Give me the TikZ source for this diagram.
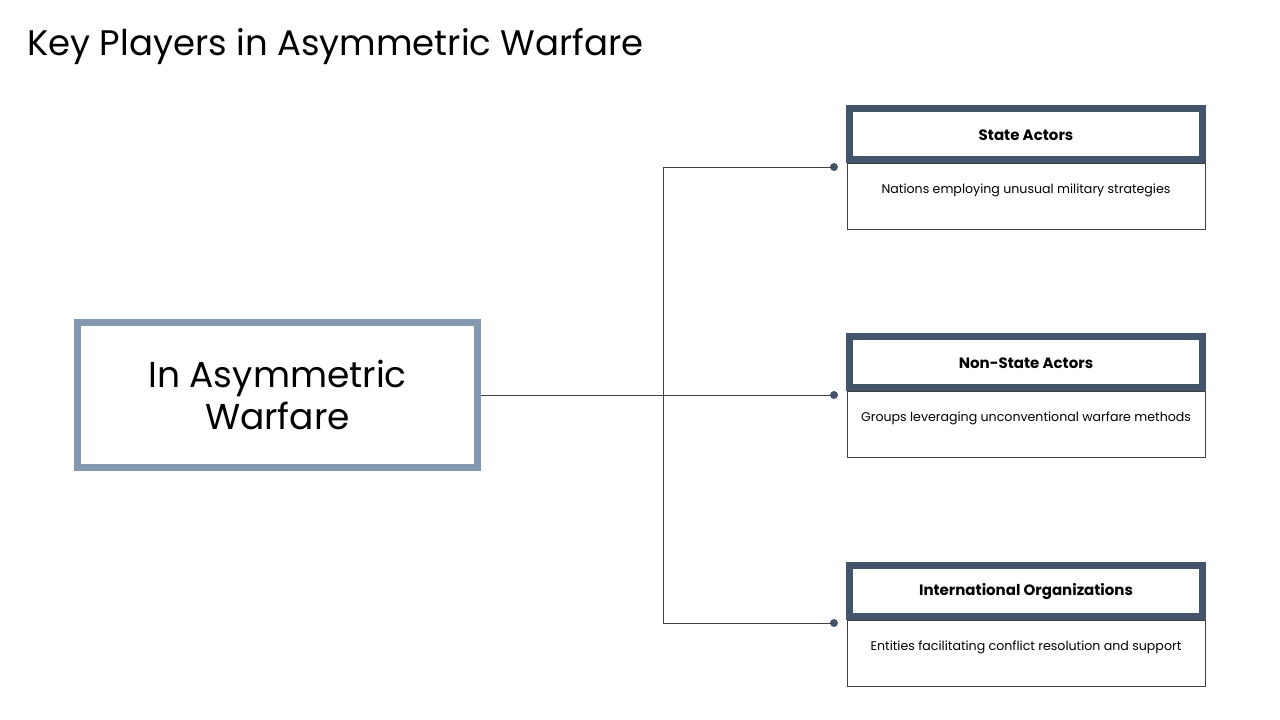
\documentclass[tikz,border=0pt]{standalone}
\usepackage{fontspec}
\setmainfont{Poppins}
\definecolor{dark}{HTML}{44546A}
\definecolor{light}{HTML}{8497B0}
\definecolor{thin}{HTML}{404040}
\begin{document}
\begin{tikzpicture}[x=1pt,y=-1pt,
  hdr/.style={draw=dark,line width=7pt,fill=white,minimum width=353pt,minimum height=51pt,inner sep=0pt},
  htext/.style={inner sep=0pt,font=\fontsize{15}{18}\selectfont\bfseries},
  body/.style={draw=thin,line width=0.8pt,minimum width=358pt,minimum height=66pt,inner sep=0pt},
  btext/.style={inner sep=0pt,font=\fontsize{12.6}{15}\selectfont},
  conn/.style={draw=thin,line width=0.9pt},
  dotc/.style={circle,fill=dark,inner sep=0pt,minimum size=8pt}]
\useasboundingbox (0,0) rectangle (1280,720);
\node[anchor=west,font=\fontsize{35.5}{42}\selectfont,inner sep=0pt] (title) at (27,47) {Key Players in Asymmetric Warfare};
\node[draw=light,line width=7pt,minimum width=400pt,minimum height=145pt,align=center,font=\fontsize{36}{42}\selectfont] (main) at (277.5,395) {In Asymmetric\\Warfare};
% right boxes
\node[body] (b1) at (1026,196) {};
\node[btext] (t1) at (1026,190) {Nations employing unusual military strategies};
\node[hdr] (h1) at (1026,134) {};
\node[htext] (ht1) at (1026,135) {State Actors};
\node[body] (b2) at (1026,424) {};
\node[btext] (t2) at (1026,418) {Groups leveraging unconventional warfare methods};
\node[hdr] (h2) at (1026,362) {};
\node[htext] (ht2) at (1026,363) {Non-State Actors};
\node[body] (b3) at (1026,653) {};
\node[btext] (t3) at (1026,647) {Entities facilitating conflict resolution and support};
\node[hdr] (h3) at (1026,591) {};
\node[htext] (ht3) at (1026,592) {International Organizations};
% dots
\node[dotc] (d1) at (834,167) {};
\node[dotc] (d2) at (834,395) {};
\node[dotc] (d3) at (834,623) {};
\coordinate (j1) at (663,167);
\coordinate (j3) at (663,623);
\draw[conn] (main.east) -- (d2.center);
\draw[conn] (d1.center) -- (j1) -- (j3) -- (d3.center);
\end{tikzpicture}
\end{document}
